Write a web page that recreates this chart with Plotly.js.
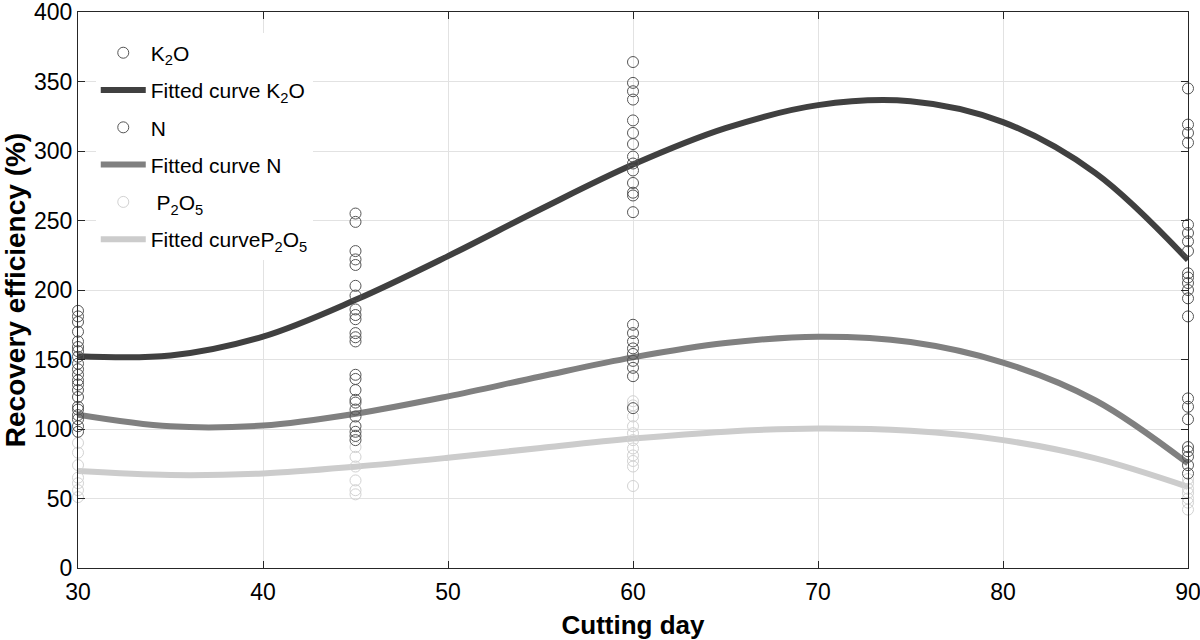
<!DOCTYPE html>
<html>
<head>
<meta charset="utf-8">
<script src="https://cdn.plot.ly/plotly-3.0.1.min.js"></script>
<style>html,body{margin:0;padding:0;background:#fff;}#chart{width:1200px;height:640px;}</style>
</head>
<body>
<div id="chart"></div>
<script>
// Observed points
const k2oX = [30,30,30,30,30,30,30,30,30,30,30,30,30,30,
              45,45,45,45,45,45,45,45,45,45,45,45,45,
              60,60,60,60,60,60,60,60,60,60,60,60,60,60,
              90,90,90,90,90,90,90,90,90,90,90,90,90,90];
const k2oY = [185,181,177,170,163,159,156,152,147,143,139,135,132,128,
              255,249,228,222,218,203,196,186,182,179,169,166,163,
              364,349,343,337,322,313,305,296,291,286,277,270,268,256,
              345,319,313,306,247,241,235,228,212,209,205,200,194,181];

const nX = [30,30,30,30,30,30,30,
            45,45,45,45,45,45,45,45,45,45,45,
            60,60,60,60,60,60,60,60,60,
            90,90,90,90,90,90,90,90];
const nY = [123,116,114,110,107,102,98,
            139,136,128,121,119,114,109,102,98,95,92,
            175,169,163,158,154,149,144,138,115,
            122,116,107,87,84,80,74,68];

const pX = [30,30,30,30,30,30,30,
            45,45,45,45,45,45,
            60,60,60,60,60,60,60,60,60,60,60,
            90,90,90,90,90,90,90];
const pY = [90,83,74,65,61,56,51,
            87,80,73,63,56,53,
            120,117,109,102,97,92,86,81,77,73,59,
            64,61,57,54,50,47,42];

// Fitted curves (values every 5 days)
const fitX = [30,35,40,45,50,55,60,65,70,75,80,85,90];
const fitK2O = [152.4,152.9,166.5,192.9,224.4,258.1,290.2,316.4,333.0,335.8,320.8,284.1,221.6];
const fitN = [110.3,101.9,102.5,111.0,123.5,137.8,151.5,161.8,166.4,162.6,147.8,120.5,75.2];
const fitP = [69.7,66.9,68.0,72.9,79.3,86.4,93.1,98.1,100.4,98.7,92.0,78.9,58.4];

const names = ['K<sub>2</sub>O','Fitted curve K<sub>2</sub>O','N','Fitted curve N',' P<sub>2</sub>O<sub>5</sub>','Fitted curveP<sub>2</sub>O<sub>5</sub>'];
const xTicks = [30,40,50,60,70,80,90];
const yTicks = [0,50,100,150,200,250,300,350,400];

function curve(y, color, name, rank){
  return {x: fitX, y: y, type:'scatter', mode:'lines', name: name,
    line:{color: color, width: 6, shape:'spline', smoothing:1}, legendgroup: name, legendrank: rank, hoverinfo:'skip'};
}
function pts(x, y, color, name, rank){
  return {x: x, y: y, type:'scatter', mode:'markers', name: name, cliponaxis:false,
    marker:{symbol:'circle-open', size: 11, color: color, line:{width:1, color: color}},
    legendgroup: name, legendrank: rank, hoverinfo:'skip'};
}

const data = [
  curve(fitP, '#cccccc', names[5], 6),
  curve(fitN, '#808080', names[3], 4),
  curve(fitK2O, '#404040', names[1], 2),
  pts(pX, pY, '#d2d2d2', names[4], 5),
  pts(nX, nY, '#555555', names[2], 3),
  pts(k2oX, k2oY, '#555555', names[0], 1)
];

const axisCommon = {
  showline:true, linecolor:'#262626', linewidth:1, mirror:'ticks',
  ticks:'inside', ticklen:7, tickcolor:'#262626', tickwidth:1,
  showgrid:true, gridcolor:'#e2e2e2', gridwidth:1, zeroline:false,
  tickfont:{size:23, color:'#000'}, ticklabeloverflow:'allow'
};

const layout = {
  width:1200, height:640,
  margin:{l:78, r:12, t:12, b:72},
  paper_bgcolor:'#fff', plot_bgcolor:'#fff',
  font:{family:'Liberation Sans, Arial, sans-serif', color:'#000'},
  xaxis: Object.assign({}, axisCommon, {
    range:[30,90], tickvals:xTicks, ticktext:xTicks.map(String), ticklabelstandoff:3,
    title:{text:'<b>Cutting day</b>', font:{size:26}, standoff:12}
  }),
  yaxis: Object.assign({}, axisCommon, {
    range:[0,400], tickvals:yTicks, ticktext:yTicks.map(String),
    title:{text:'<b>Recovery efficiency (%)</b>', font:{size:28}, standoff:2}
  }),
  legend:{x:0.016, y:0.963, xanchor:'left', yanchor:'top', bgcolor:'#ffffff',
    borderwidth:0, font:{size:21, color:'#000'}, tracegroupgap:7, itemwidth:45,
    traceorder:'grouped'},
  showlegend:true
};

Plotly.newPlot('chart', data, layout, {staticPlot:true, displayModeBar:false});
</script>
</body>
</html>
